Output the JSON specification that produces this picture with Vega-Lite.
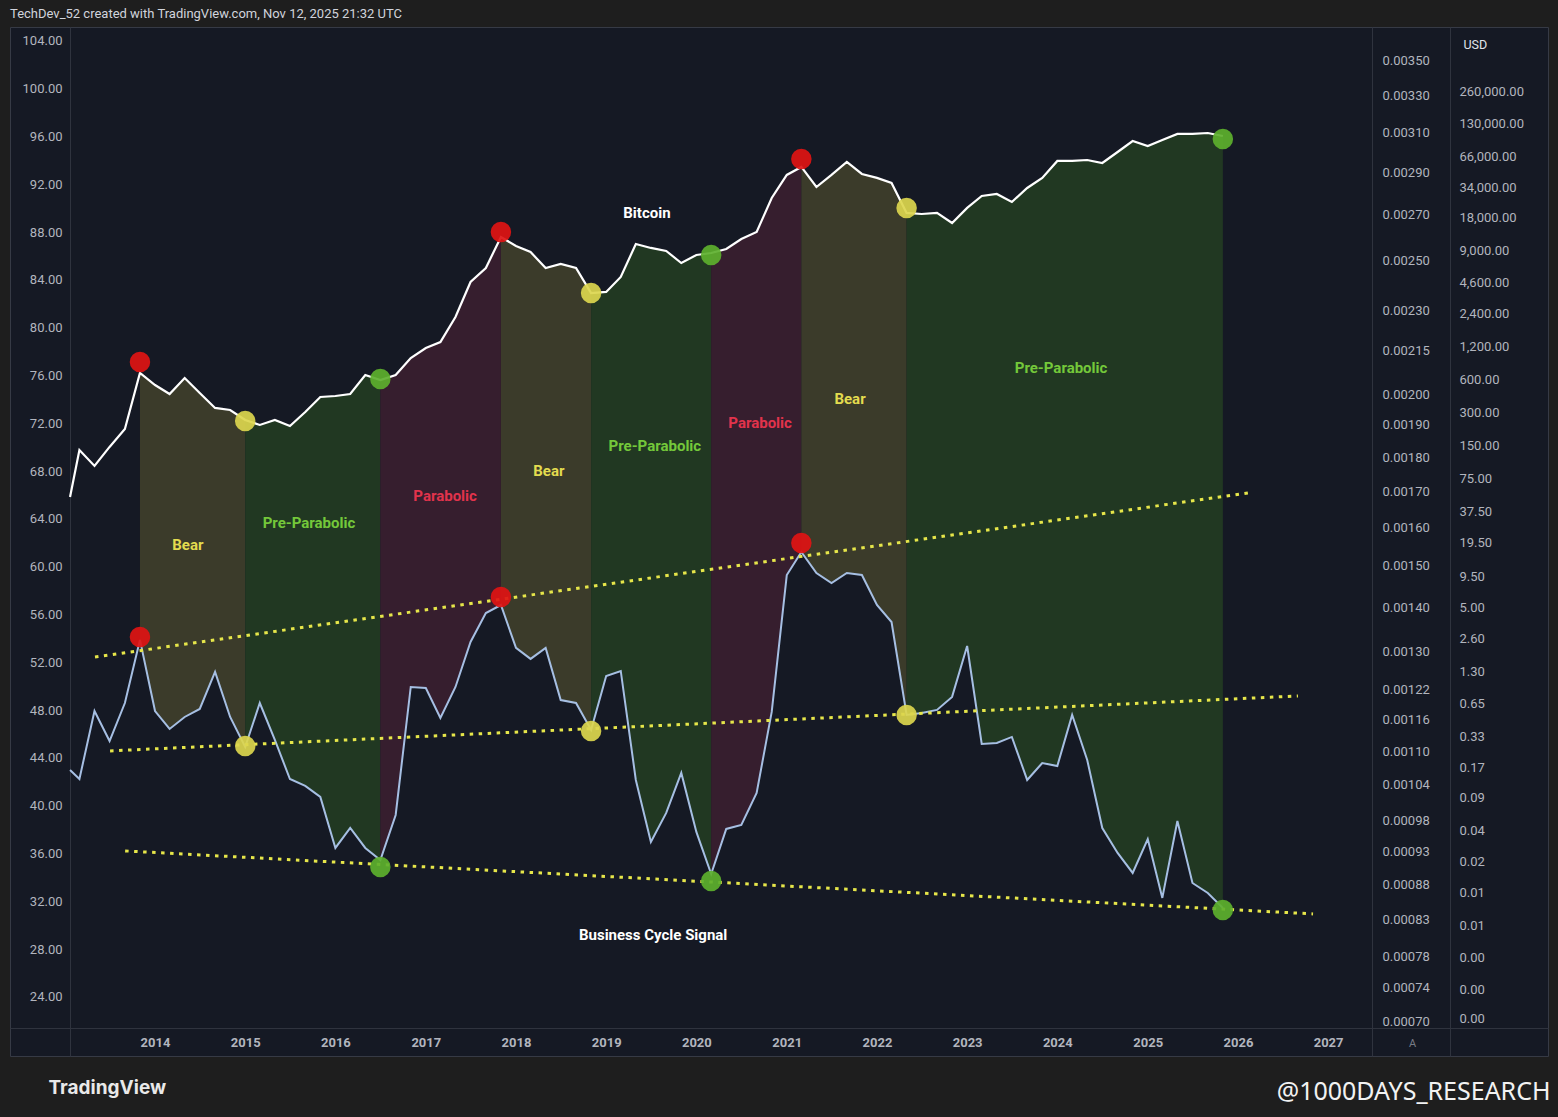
{
  "$schema": "https://vega.github.io/schema/vega-lite/v6.json",
  "width": 1538,
  "height": 1029,
  "autosize": {"type": "none"},
  "padding": {"left": 10, "top": 27, "right": 10, "bottom": 61},
  "background": "#1e1e1e",
  "title": {
    "text": "TechDev_52 created with TradingView.com, Nov 12, 2025 21:32 UTC",
    "anchor": "start",
    "frame": "group",
    "offset": 6,
    "font": "Roboto",
    "fontSize": 13,
    "fontWeight": "normal",
    "color": "#d1d4dc"
  },
  "config": {
    "view": {"fill": "#151924", "stroke": "#363a45", "strokeWidth": 1},
    "axis": {
      "labelFont": "Roboto",
      "labelFontSize": 13,
      "labelColor": "#b2b5be",
      "domainColor": "#2f333e",
      "ticks": false,
      "grid": false,
      "labelOverlap": false,
      "titleFont": "Roboto"
    },
    "text": {"font": "Roboto"}
  },
  "layer": [
    {
      "encoding": {
        "x": {
          "field": "date",
          "type": "temporal",
          "scale": {"type": "utc", "domain": [1337817600000, 1875657600000], "nice": false},
          "axis": {
            "orient": "bottom",
            "offset": -28,
            "values": [1388534400000, 1420070400000, 1451606400000, 1483228800000, 1514764800000, 1546300800000, 1577836800000, 1609459200000, 1640995200000, 1672531200000, 1704067200000, 1735689600000, 1767225600000, 1798761600000],
            "labelExpr": "utcFormat(datum.value, '%Y')",
            "labelFontWeight": "bold",
            "labelPadding": 8,
            "labelFlush": false,
            "title": "@1000DAYS_RESEARCH",
            "titleX": 1540,
            "titleY": 63,
            "titleAlign": "right",
            "titleBaseline": "middle",
            "titleFont": "Noto Sans",
            "titleFontSize": 25,
            "titleFontWeight": "normal",
            "titleColor": "#f2f2f2"
          }
        }
      },
      "layer": [
        {
          "data": {
            "values": [
              {"date": "2013-01-22", "btc": 65.84, "signal": 43.00},
              {"date": "2013-03-01", "btc": 69.77, "signal": 42.24},
              {"date": "2013-05-01", "btc": 68.44, "signal": 47.93},
              {"date": "2013-07-01", "btc": 70.03, "signal": 45.42},
              {"date": "2013-09-01", "btc": 71.53, "signal": 48.60},
              {"date": "2013-11-01", "btc": 76.22, "signal": 53.88},
              {"date": "2014-01-01", "btc": 75.21, "signal": 47.93},
              {"date": "2014-03-01", "btc": 74.46, "signal": 46.43},
              {"date": "2014-05-01", "btc": 75.80, "signal": 47.43},
              {"date": "2014-07-01", "btc": 74.54, "signal": 48.10},
              {"date": "2014-09-01", "btc": 73.29, "signal": 51.20},
              {"date": "2014-11-01", "btc": 73.12, "signal": 47.43},
              {"date": "2015-01-01", "btc": 72.28, "signal": 44.92},
              {"date": "2015-03-01", "btc": 71.87, "signal": 48.60},
              {"date": "2015-05-01", "btc": 72.28, "signal": 45.51},
              {"date": "2015-07-01", "btc": 71.78, "signal": 42.24},
              {"date": "2015-09-01", "btc": 72.95, "signal": 41.66},
              {"date": "2015-11-01", "btc": 74.21, "signal": 40.74},
              {"date": "2016-01-01", "btc": 74.29, "signal": 36.47},
              {"date": "2016-03-01", "btc": 74.46, "signal": 38.14},
              {"date": "2016-05-01", "btc": 76.05, "signal": 36.47},
              {"date": "2016-07-01", "btc": 75.63, "signal": 35.46},
              {"date": "2016-09-01", "btc": 76.05, "signal": 39.23},
              {"date": "2016-11-01", "btc": 77.47, "signal": 49.94},
              {"date": "2017-01-01", "btc": 78.31, "signal": 49.86},
              {"date": "2017-03-01", "btc": 78.81, "signal": 47.35},
              {"date": "2017-05-01", "btc": 80.90, "signal": 49.94},
              {"date": "2017-07-01", "btc": 83.83, "signal": 53.71},
              {"date": "2017-09-01", "btc": 85.00, "signal": 56.13},
              {"date": "2017-11-01", "btc": 87.60, "signal": 56.80},
              {"date": "2018-01-01", "btc": 86.85, "signal": 53.21},
              {"date": "2018-03-01", "btc": 86.34, "signal": 52.29},
              {"date": "2018-05-01", "btc": 85.00, "signal": 53.21},
              {"date": "2018-07-01", "btc": 85.34, "signal": 48.85},
              {"date": "2018-09-01", "btc": 85.00, "signal": 48.60},
              {"date": "2018-11-01", "btc": 82.91, "signal": 46.34},
              {"date": "2019-01-01", "btc": 83.00, "signal": 50.86},
              {"date": "2019-03-01", "btc": 84.25, "signal": 51.28},
              {"date": "2019-05-01", "btc": 87.01, "signal": 42.16},
              {"date": "2019-07-01", "btc": 86.68, "signal": 36.97},
              {"date": "2019-09-01", "btc": 86.43, "signal": 39.40},
              {"date": "2019-11-01", "btc": 85.42, "signal": 42.75},
              {"date": "2020-01-01", "btc": 86.09, "signal": 37.81},
              {"date": "2020-03-01", "btc": 86.26, "signal": 34.29},
              {"date": "2020-05-01", "btc": 86.59, "signal": 38.06},
              {"date": "2020-07-01", "btc": 87.43, "signal": 38.39},
              {"date": "2020-09-01", "btc": 88.02, "signal": 41.07},
              {"date": "2020-11-01", "btc": 90.86, "signal": 47.85},
              {"date": "2021-01-01", "btc": 92.79, "signal": 59.31},
              {"date": "2021-03-01", "btc": 93.46, "signal": 61.24},
              {"date": "2021-05-01", "btc": 91.78, "signal": 59.48},
              {"date": "2021-07-01", "btc": 92.79, "signal": 58.64},
              {"date": "2021-09-01", "btc": 93.88, "signal": 59.48},
              {"date": "2021-11-01", "btc": 92.87, "signal": 59.31},
              {"date": "2022-01-01", "btc": 92.54, "signal": 56.80},
              {"date": "2022-03-01", "btc": 92.12, "signal": 55.38},
              {"date": "2022-05-01", "btc": 89.61, "signal": 47.60},
              {"date": "2022-07-01", "btc": 89.52, "signal": 47.77},
              {"date": "2022-09-01", "btc": 89.61, "signal": 48.02},
              {"date": "2022-11-01", "btc": 88.77, "signal": 49.11},
              {"date": "2023-01-01", "btc": 90.03, "signal": 53.37},
              {"date": "2023-03-01", "btc": 91.03, "signal": 45.17},
              {"date": "2023-05-01", "btc": 91.20, "signal": 45.26},
              {"date": "2023-07-01", "btc": 90.53, "signal": 45.76},
              {"date": "2023-09-01", "btc": 91.70, "signal": 42.16},
              {"date": "2023-11-01", "btc": 92.54, "signal": 43.58},
              {"date": "2024-01-01", "btc": 93.96, "signal": 43.33},
              {"date": "2024-03-01", "btc": 93.96, "signal": 47.60},
              {"date": "2024-05-01", "btc": 94.04, "signal": 43.83},
              {"date": "2024-07-01", "btc": 93.79, "signal": 38.14},
              {"date": "2024-09-01", "btc": 94.71, "signal": 36.05},
              {"date": "2024-11-01", "btc": 95.63, "signal": 34.38},
              {"date": "2025-01-01", "btc": 95.21, "signal": 37.22},
              {"date": "2025-03-01", "btc": 95.72, "signal": 32.29},
              {"date": "2025-05-01", "btc": 96.22, "signal": 38.73},
              {"date": "2025-07-01", "btc": 96.22, "signal": 33.54},
              {"date": "2025-09-01", "btc": 96.30, "signal": 32.70},
              {"date": "2025-11-01", "btc": 96.05, "signal": 31.45}
            ],
            "format": {"parse": {"date": "date"}}
          },
          "layer": [
            {
              "transform": [{"filter": {"field": "date", "range": [{"year": 2013, "month": 11, "date": 1, "utc": true}, {"year": 2015, "month": 1, "date": 1, "utc": true}]}}],
              "mark": {"type": "area", "color": "#3b3b2a", "opacity": 1},
              "encoding": {
                "y": {"field": "btc", "type": "quantitative", "scale": {"domain": [19.06, 105.17], "nice": false, "zero": false}, "axis": null},
                "y2": {"field": "signal"}
              }
            },
            {
              "transform": [{"filter": {"field": "date", "range": [{"year": 2015, "month": 1, "date": 1, "utc": true}, {"year": 2016, "month": 7, "date": 1, "utc": true}]}}],
              "mark": {"type": "area", "color": "#213822", "opacity": 1},
              "encoding": {
                "y": {"field": "btc", "type": "quantitative", "scale": {"domain": [19.06, 105.17], "nice": false, "zero": false}, "axis": null},
                "y2": {"field": "signal"}
              }
            },
            {
              "transform": [{"filter": {"field": "date", "range": [{"year": 2016, "month": 7, "date": 1, "utc": true}, {"year": 2017, "month": 11, "date": 1, "utc": true}]}}],
              "mark": {"type": "area", "color": "#361e2e", "opacity": 1},
              "encoding": {
                "y": {"field": "btc", "type": "quantitative", "scale": {"domain": [19.06, 105.17], "nice": false, "zero": false}, "axis": null},
                "y2": {"field": "signal"}
              }
            },
            {
              "transform": [{"filter": {"field": "date", "range": [{"year": 2017, "month": 11, "date": 1, "utc": true}, {"year": 2018, "month": 11, "date": 1, "utc": true}]}}],
              "mark": {"type": "area", "color": "#3b3b2a", "opacity": 1},
              "encoding": {
                "y": {"field": "btc", "type": "quantitative", "scale": {"domain": [19.06, 105.17], "nice": false, "zero": false}, "axis": null},
                "y2": {"field": "signal"}
              }
            },
            {
              "transform": [{"filter": {"field": "date", "range": [{"year": 2018, "month": 11, "date": 1, "utc": true}, {"year": 2020, "month": 3, "date": 1, "utc": true}]}}],
              "mark": {"type": "area", "color": "#213822", "opacity": 1},
              "encoding": {
                "y": {"field": "btc", "type": "quantitative", "scale": {"domain": [19.06, 105.17], "nice": false, "zero": false}, "axis": null},
                "y2": {"field": "signal"}
              }
            },
            {
              "transform": [{"filter": {"field": "date", "range": [{"year": 2020, "month": 3, "date": 1, "utc": true}, {"year": 2021, "month": 3, "date": 1, "utc": true}]}}],
              "mark": {"type": "area", "color": "#361e2e", "opacity": 1},
              "encoding": {
                "y": {"field": "btc", "type": "quantitative", "scale": {"domain": [19.06, 105.17], "nice": false, "zero": false}, "axis": null},
                "y2": {"field": "signal"}
              }
            },
            {
              "transform": [{"filter": {"field": "date", "range": [{"year": 2021, "month": 3, "date": 1, "utc": true}, {"year": 2022, "month": 5, "date": 1, "utc": true}]}}],
              "mark": {"type": "area", "color": "#3b3b2a", "opacity": 1},
              "encoding": {
                "y": {"field": "btc", "type": "quantitative", "scale": {"domain": [19.06, 105.17], "nice": false, "zero": false}, "axis": null},
                "y2": {"field": "signal"}
              }
            },
            {
              "transform": [{"filter": {"field": "date", "range": [{"year": 2022, "month": 5, "date": 1, "utc": true}, {"year": 2025, "month": 11, "date": 1, "utc": true}]}}],
              "mark": {"type": "area", "color": "#213822", "opacity": 1},
              "encoding": {
                "y": {"field": "btc", "type": "quantitative", "scale": {"domain": [19.06, 105.17], "nice": false, "zero": false}, "axis": null},
                "y2": {"field": "signal"}
              }
            },
            {
              "mark": {"type": "line", "color": "#a6bfe3", "strokeWidth": 2},
              "encoding": {
                "y": {"field": "signal", "type": "quantitative", "scale": {"domain": [19.06, 105.17], "nice": false, "zero": false}, "axis": null}
              }
            },
            {
              "mark": {"type": "line", "color": "#ffffff", "strokeWidth": 2.2},
              "encoding": {
                "y": {"field": "btc", "type": "quantitative", "scale": {"domain": [19.06, 105.17], "nice": false, "zero": false}, "axis": null}
              }
            }
          ]
        },
        {
          "data": {
            "values": [
              {"line": "upper", "date": "2013-05-03", "value": 52.45},
              {"line": "upper", "date": "2026-02-11", "value": 66.18},
              {"line": "middle", "date": "2013-07-03", "value": 44.59},
              {"line": "middle", "date": "2026-09-01", "value": 49.19},
              {"line": "lower", "date": "2013-09-02", "value": 36.22},
              {"line": "lower", "date": "2026-11-01", "value": 30.95}
            ]
          },
          "mark": {"type": "line", "color": "#e6e64a", "strokeWidth": 3, "strokeDash": [3.5, 5.5], "strokeCap": "butt"},
          "encoding": {
            "y": {"field": "value", "type": "quantitative", "scale": {"domain": [19.06, 105.17], "nice": false, "zero": false}, "axis": null},
            "detail": {"field": "line"}
          }
        },
        {
          "data": {
            "values": [
              {"date": "2013-11-01", "value": 77.14, "event": "Bear start"},
              {"date": "2013-11-01", "value": 54.13, "event": "Bear start"},
              {"date": "2017-11-01", "value": 88.02, "event": "Bear start"},
              {"date": "2017-11-01", "value": 57.47, "event": "Bear start"},
              {"date": "2021-03-01", "value": 94.13, "event": "Bear start"},
              {"date": "2021-03-01", "value": 61.99, "event": "Bear start"},
              {"date": "2015-01-01", "value": 72.20, "event": "Pre-Parabolic start"},
              {"date": "2015-01-01", "value": 45.00, "event": "Pre-Parabolic start"},
              {"date": "2018-11-01", "value": 82.91, "event": "Pre-Parabolic start"},
              {"date": "2018-11-01", "value": 46.26, "event": "Pre-Parabolic start"},
              {"date": "2022-05-01", "value": 90.03, "event": "Pre-Parabolic start"},
              {"date": "2022-05-01", "value": 47.60, "event": "Pre-Parabolic start"},
              {"date": "2016-07-01", "value": 75.72, "event": "Parabolic start"},
              {"date": "2016-07-01", "value": 34.88, "event": "Parabolic start"},
              {"date": "2020-03-01", "value": 86.09, "event": "Parabolic start"},
              {"date": "2020-03-01", "value": 33.71, "event": "Parabolic start"},
              {"date": "2025-11-01", "value": 95.80, "event": "Parabolic start"},
              {"date": "2025-11-01", "value": 31.28, "event": "Parabolic start"}
            ]
          },
          "mark": {"type": "point", "filled": true, "size": 420, "opacity": 0.92, "strokeWidth": 0},
          "encoding": {
            "y": {"field": "value", "type": "quantitative", "scale": {"domain": [19.06, 105.17], "nice": false, "zero": false}, "axis": null},
            "color": {
              "field": "event",
              "type": "nominal",
              "scale": {"domain": ["Bear start", "Pre-Parabolic start", "Parabolic start"], "range": ["#e01414", "#dcd64e", "#5db02e"]},
              "legend": null
            }
          }
        },
        {
          "data": {
            "values": [
              {"date": "2014-05-14", "value": 61.82, "text": "Bear", "kind": "Bear"},
              {"date": "2015-09-16", "value": 63.67, "text": "Pre-Parabolic", "kind": "Pre-Parabolic"},
              {"date": "2017-03-20", "value": 65.93, "text": "Parabolic", "kind": "Parabolic"},
              {"date": "2018-05-14", "value": 68.02, "text": "Bear", "kind": "Bear"},
              {"date": "2019-07-17", "value": 70.11, "text": "Pre-Parabolic", "kind": "Pre-Parabolic"},
              {"date": "2020-09-15", "value": 72.03, "text": "Parabolic", "kind": "Parabolic"},
              {"date": "2021-09-14", "value": 74.04, "text": "Bear", "kind": "Bear"},
              {"date": "2024-01-16", "value": 76.64, "text": "Pre-Parabolic", "kind": "Pre-Parabolic"},
              {"date": "2019-06-15", "value": 89.61, "text": "Bitcoin", "kind": "Series"},
              {"date": "2019-07-10", "value": 29.19, "text": "Business Cycle Signal", "kind": "Series"}
            ]
          },
          "mark": {"type": "text", "font": "Roboto", "fontSize": 15, "fontWeight": "bold", "align": "center", "baseline": "middle"},
          "encoding": {
            "y": {"field": "value", "type": "quantitative", "scale": {"domain": [19.06, 105.17], "nice": false, "zero": false}, "axis": null},
            "text": {"field": "text"},
            "color": {
              "field": "kind",
              "type": "nominal",
              "scale": {"domain": ["Bear", "Pre-Parabolic", "Parabolic", "Series"], "range": ["#e3dc4f", "#74c83a", "#e2334c", "#ffffff"]},
              "legend": null
            }
          }
        }
      ],
      "resolve": {"scale": {"color": "independent"}}
    },
    {
      "data": {
        "values": [
          {"z": 24}, {"z": 28}, {"z": 32}, {"z": 36}, {"z": 40}, {"z": 44}, {"z": 48}, {"z": 52}, {"z": 56}, {"z": 60}, {"z": 64}, {"z": 68}, {"z": 72}, {"z": 76}, {"z": 80}, {"z": 84}, {"z": 88}, {"z": 92}, {"z": 96}, {"z": 100}, {"z": 104}
        ]
      },
      "mark": {"type": "point", "opacity": 0},
      "encoding": {
        "y": {
          "field": "z",
          "type": "quantitative",
          "scale": {"domain": [19.06, 105.17], "nice": false, "zero": false},
          "axis": {
            "orient": "left",
            "offset": -60,
            "values": [24, 28, 32, 36, 40, 44, 48, 52, 56, 60, 64, 68, 72, 76, 80, 84, 88, 92, 96, 100, 104],
            "format": ".2f",
            "labelPadding": 8,
            "title": "TradingView",
            "titleX": -22,
            "titleY": 1060,
            "titleAngle": 0,
            "titleAlign": "left",
            "titleBaseline": "middle",
            "titleFont": "Inter",
            "titleFontSize": 19,
            "titleFontWeight": "bold",
            "titleColor": "#e9e9e9"
          }
        }
      }
    },
    {
      "data": {
        "values": [
          {"a": 0.0035}, {"a": 0.0033}, {"a": 0.0031}, {"a": 0.0029}, {"a": 0.0027}, {"a": 0.0025}, {"a": 0.0023}, {"a": 0.00215}, {"a": 0.002}, {"a": 0.0019}, {"a": 0.0018}, {"a": 0.0017}, {"a": 0.0016}, {"a": 0.0015}, {"a": 0.0014}, {"a": 0.0013}, {"a": 0.00122}, {"a": 0.00116}, {"a": 0.0011}, {"a": 0.00104}, {"a": 0.00098}, {"a": 0.00093}, {"a": 0.00088}, {"a": 0.00083}, {"a": 0.00078}, {"a": 0.00074}, {"a": 0.0007}
        ]
      },
      "mark": {"type": "point", "opacity": 0},
      "encoding": {
        "y": {
          "field": "a",
          "type": "quantitative",
          "scale": {"type": "log", "domain": [0.00066015, 0.003699], "nice": false},
          "axis": {
            "orient": "right",
            "offset": -176,
            "values": [0.0035, 0.0033, 0.0031, 0.0029, 0.0027, 0.0025, 0.0023, 0.00215, 0.002, 0.0019, 0.0018, 0.0017, 0.0016, 0.0015, 0.0014, 0.0013, 0.00122, 0.00116, 0.0011, 0.00104, 0.00098, 0.00093, 0.00088, 0.00083, 0.00078, 0.00074, 0.0007],
            "format": ".5f",
            "labelPadding": 10,
            "title": "A",
            "titleX": 40,
            "titleY": 1016,
            "titleAngle": 0,
            "titleAlign": "center",
            "titleBaseline": "middle",
            "titleFontSize": 11,
            "titleFontWeight": "normal",
            "titleColor": "#787b86"
          }
        }
      }
    },
    {
      "data": {
        "values": [
          {"b": 260000}, {"b": 130000}, {"b": 66000}, {"b": 34000}, {"b": 18000}, {"b": 9000}, {"b": 4600}, {"b": 2400}, {"b": 1200}, {"b": 600}, {"b": 300}, {"b": 150}, {"b": 75}, {"b": 37.5}, {"b": 19.5}, {"b": 9.5}, {"b": 5}, {"b": 2.6}, {"b": 1.3}, {"b": 0.65}, {"b": 0.33}, {"b": 0.17}, {"b": 0.09}, {"b": 0.045}, {"b": 0.0234}, {"b": 0.0122}, {"b": 0.0061}, {"b": 0.0031}, {"b": 0.0016}, {"b": 0.00086}
        ]
      },
      "mark": {"type": "point", "opacity": 0},
      "encoding": {
        "y": {
          "field": "b",
          "type": "quantitative",
          "scale": {"type": "log", "domain": [0.000394, 999800], "nice": false},
          "axis": {
            "orient": "right",
            "offset": -98,
            "values": [260000, 130000, 66000, 34000, 18000, 9000, 4600, 2400, 1200, 600, 300, 150, 75, 37.5, 19.5, 9.5, 5, 2.6, 1.3, 0.65, 0.33, 0.17, 0.09, 0.045, 0.0234, 0.0122, 0.0061, 0.0031, 0.0016, 0.00086],
            "format": ",.2f",
            "labelPadding": 9,
            "title": "USD",
            "titleX": 13,
            "titleY": 17,
            "titleAngle": 0,
            "titleAlign": "left",
            "titleBaseline": "middle",
            "titleFontSize": 12.5,
            "titleFontWeight": "normal",
            "titleColor": "#e0e3eb"
          }
        }
      }
    }
  ],
  "resolve": {"scale": {"y": "independent"}}
}
